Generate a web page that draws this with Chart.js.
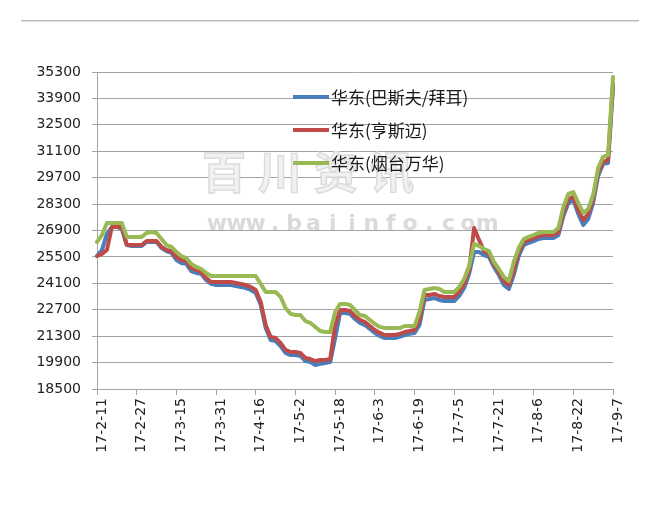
<!DOCTYPE html>
<html>
<head>
<meta charset="utf-8">
<script src="https://cdn.jsdelivr.net/npm/chart.js@4.4.0/dist/chart.umd.min.js"></script>
<style>
  html, body { margin: 0; padding: 0; background: #fff; }
  #wrap { position: relative; width: 660px; height: 505px; }
  #rule { position: absolute; left: 21px; top: 20px; width: 618px; height: 0; border-top: 1px solid #bcbcbc; border-bottom: 1px solid #e0e0e0; }
  canvas { position: absolute; left: 0; top: 0; }
</style>
</head>
<body>
<div id="wrap">
  <div id="rule"></div>
  <canvas id="chart" width="660" height="505"></canvas>
</div>
<script>
// one point every 2 days, 17-2-11 .. 17-9-7
const startDate = new Date(2017, 1, 11);
const stepDays = 2;
const labelEvery = 8; // a tick label every 16 days

const seriesNames = ['华东(巴斯夫/拜耳)', '华东(亨斯迈)', '华东(烟台万华)'];
const seriesColors = ['#4a7ebb', '#be4b48', '#98b954'];

const basf = [
  25550, 25870, 26720, 27090, 27090, 26980, 26130, 26080, 26080, 26080,
  26290, 26290, 26290, 25970, 25810, 25710, 25340, 25180, 25130, 24750,
  24650, 24600, 24280, 24070, 24010, 24010, 24010, 24010, 23960, 23910,
  23850, 23750, 23590, 22950, 21730, 21100, 21040, 20780, 20410, 20300,
  20300, 20250, 19980, 19930, 19770, 19830, 19880, 19930, 21200, 22530,
  22530, 22480, 22210, 22000, 21890, 21680, 21470, 21310, 21200, 21200,
  21200, 21260, 21360, 21420, 21470, 21890, 23220, 23270, 23320, 23220,
  23160, 23160, 23160, 23430, 23850, 24600, 25760, 25760, 25600, 25500,
  24970, 24540, 24010, 23800, 24540, 25550, 26130, 26240, 26340, 26450,
  26500, 26500, 26500, 26660, 27670, 28360, 28520, 27780, 27190, 27510,
  28360, 29790, 30430, 30480, 34510
];
const huntsman = [
  25550, 25660, 25870, 27090, 27090, 27090, 26130, 26130, 26130, 26130,
  26340, 26340, 26340, 26030, 25870, 25810, 25500, 25340, 25280, 24910,
  24810, 24700, 24380, 24170, 24170, 24170, 24170, 24170, 24120, 24070,
  24010, 23910, 23750, 23110, 21890, 21260, 21200, 20940, 20570, 20460,
  20460, 20410, 20140, 20090, 19980, 20040, 20040, 20090, 21890, 22690,
  22690, 22630, 22370, 22160, 22050, 21840, 21630, 21470, 21360, 21360,
  21360, 21420, 21520, 21570, 21630, 22160, 23480, 23480, 23540, 23430,
  23380, 23380, 23380, 23640, 24070, 24810, 27030, 26400, 25810, 25660,
  25130, 24700, 24220, 24010, 24810, 25760, 26290, 26400, 26500, 26610,
  26660, 26660, 26660, 26820, 27880, 28570, 28680, 27990, 27460, 27780,
  28570, 30000, 30530, 30640, 34670
];
const wanhua = [
  26290, 26660, 27300, 27300, 27300, 27300, 26560, 26560, 26560, 26560,
  26770, 26820, 26770, 26450, 26130, 26030, 25760, 25550, 25440, 25130,
  24970, 24860, 24650, 24490, 24490, 24490, 24490, 24490, 24490, 24490,
  24490, 24490, 24490, 24070, 23640, 23640, 23640, 23380, 22790, 22480,
  22420, 22420, 22100, 22000, 21790, 21570, 21520, 21520, 22580, 23010,
  23010, 22950, 22690, 22420, 22370, 22160, 21950, 21790, 21730, 21730,
  21730, 21730, 21840, 21840, 21840, 22580, 23750, 23800, 23850, 23800,
  23640, 23640, 23640, 23910, 24330, 25020, 26190, 26080, 25920, 25810,
  25230, 24860, 24440, 24220, 25230, 25970, 26450, 26560, 26660, 26770,
  26820, 26820, 26820, 27030, 28150, 28840, 28940, 28360, 27830, 28040,
  28780, 30210, 30800, 30900, 35040
];

const yTicks = [18500, 19900, 21300, 22700, 24100, 25500, 26900, 28300, 29700, 31100, 32500, 33900, 35300];

const categories = basf.map((_, i) => {
  const d = new Date(startDate);
  d.setDate(d.getDate() + i * stepDays);
  return String(d.getFullYear()).slice(2) + '-' + (d.getMonth() + 1) + '-' + d.getDate();
});

const gridColor = '#a3a3a3';

// faint site watermark behind the lines
const watermark = {
  id: 'watermark',
  beforeDatasetsDraw(chart) {
    const ctx = chart.ctx;
    ctx.save();
    ctx.textAlign = 'center';
    ctx.textBaseline = 'middle';
    ctx.font = 'bold 44px "Noto Sans CJK SC"';
    ctx.fillStyle = '#f1f1f1';
    ctx.strokeStyle = '#dcdcdc';
    ctx.lineWidth = 1.5;
    '百川资讯'.split('').forEach((c, i) => {
      ctx.fillText(c, 224 + i * 56, 172);
      ctx.strokeText(c, 224 + i * 56, 172);
    });
    ctx.font = 'bold 22px "DejaVu Sans"';
    ctx.fillStyle = '#dadada';
    'www.baiinfo.com'.split('').forEach((c, i) => {
      ctx.fillText(c, 217 + i * 19.3, 224);
    });
    ctx.restore();
  }
};

// legend sits inside the plot, like the original
const insideLegend = {
  id: 'insideLegend',
  afterDraw(chart) {
    const ctx = chart.ctx;
    const { left, top } = chart.chartArea;
    ctx.save();
    ctx.font = '17px "Noto Sans CJK SC"';
    ctx.textBaseline = 'middle';
    chart.data.datasets.forEach((ds, i) => {
      const x = left + 196;
      const y = top + 25 + i * 33;
      ctx.strokeStyle = ds.borderColor;
      ctx.lineWidth = 4;
      ctx.beginPath();
      ctx.moveTo(x, y);
      ctx.lineTo(x + 36, y);
      ctx.stroke();
      ctx.fillStyle = '#1a1a1a';
      ctx.fillText(ds.label, x + 38, y + 1);
    });
    ctx.restore();
  }
};

const seriesData = [basf, huntsman, wanhua];

new Chart(document.getElementById('chart'), {
  type: 'line',
  data: {
    labels: categories,
    datasets: seriesData.map((vals, i) => ({
      label: seriesNames[i],
      data: vals,
      borderColor: seriesColors[i],
      backgroundColor: seriesColors[i],
      borderWidth: 4,
      pointRadius: 0,
      tension: 0,
      borderJoinStyle: 'round',
      borderCapStyle: 'round',
      order: 3 - i   // green drawn on top
    }))
  },
  options: {
    responsive: false,
    animation: false,
    layout: { padding: { top: 72, right: 47, bottom: 0, left: 0 } },
    plugins: {
      legend: { display: false },
      tooltip: { enabled: false }
    },
    scales: {
      x: {
        offset: false,
        afterFit(scale) { scale.height = 116; },
        border: { color: gridColor, width: 1 },
        grid: {
          drawOnChartArea: false,
          tickLength: 6,
          color: (c) => (c.index % labelEvery === 0 ? gridColor : 'rgba(0,0,0,0)')
        },
        ticks: {
          autoSkip: false,
          maxRotation: 90,
          minRotation: 90,
          padding: 3,
          labelOffset: 5,
          color: '#222',
          font: { family: 'DejaVu Sans', size: 14 },
          callback: (v, i) => (i % labelEvery === 0 ? categories[i] : '')
        }
      },
      y: {
        min: 18500,
        max: 35300,
        afterFit(scale) { scale.width = 97; },
        afterBuildTicks(scale) { scale.ticks = yTicks.map(v => ({ value: v })); },
        border: { color: gridColor, width: 1 },
        grid: { color: gridColor, tickLength: 5, lineWidth: 1 },
        ticks: {
          padding: 11,
          color: '#222',
          font: { family: 'DejaVu Sans', size: 14 },
          callback: (v) => String(v)
        }
      }
    }
  },
  plugins: [watermark, insideLegend]
});
</script>
</body>
</html>
